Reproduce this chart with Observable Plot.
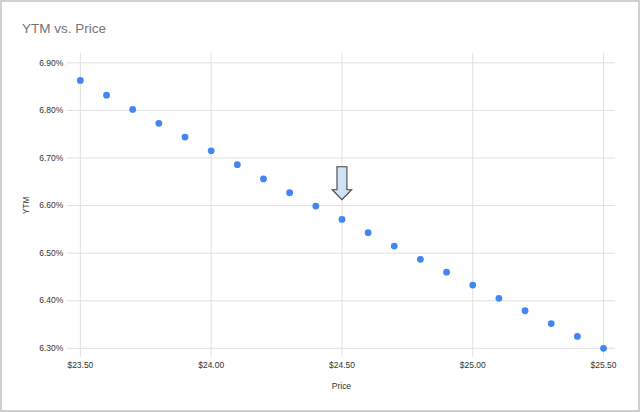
<!DOCTYPE html>
<html>
<head>
<meta charset="utf-8">
<script src="https://cdn.jsdelivr.net/npm/d3@7"></script>
<script src="https://cdn.jsdelivr.net/npm/@observablehq/plot@0.6"></script>
<style>
  html, body { margin: 0; padding: 0; background: #fff; }
  #wrap { position: relative; width: 640px; height: 412px; box-sizing: border-box; border: 2px solid #d0d0d0; overflow: hidden; }
  #title { position: absolute; left: 20px; top: 20px; font: 13.5px/1 "Liberation Sans", Arial, sans-serif; color: #757575; }
  #chart { position: absolute; left: -2px; top: -2px; }
</style>
</head>
<body>
<div id="wrap">
  <div id="title">YTM vs. Price</div>
  <div id="chart"></div>
</div>
<script>
const prices = [23.5, 23.6, 23.7, 23.8, 23.9, 24.0, 24.1, 24.2, 24.3, 24.4, 24.5, 24.6, 24.7, 24.8, 24.9, 25.0, 25.1, 25.2, 25.3, 25.4, 25.5];
const ytm = [6.863, 6.832, 6.802, 6.773, 6.744, 6.715, 6.686, 6.656, 6.627, 6.599, 6.571, 6.543, 6.515, 6.487, 6.460, 6.433, 6.405, 6.379, 6.352, 6.325, 6.300];
const xTicks = [23.5, 24.0, 24.5, 25.0, 25.5];
const yTicks = [6.3, 6.4, 6.5, 6.6, 6.7, 6.8, 6.9];
const marker = [{price: 24.5, ytm: 6.647}];

const points = prices.map((p, i) => ({price: p, ytm: ytm[i]}));

const arrowSymbol = {
  draw(ctx) {
    ctx.moveTo(-5, -16.5);
    ctx.lineTo(5, -16.5);
    ctx.lineTo(5, 6.5);
    ctx.lineTo(9.7, 6.5);
    ctx.lineTo(0, 16.5);
    ctx.lineTo(-9.7, 6.5);
    ctx.lineTo(-5, 6.5);
    ctx.closePath();
  }
};

const chart = Plot.plot({
  width: 640,
  height: 412,
  marginLeft: 67,
  marginRight: 23,
  marginTop: 53,
  marginBottom: 54,
  style: {fontFamily: "'Liberation Sans', Arial, sans-serif", fontSize: "8.5px", color: "#333", background: "transparent"},
  x: {domain: [23.45, 25.546]},
  y: {domain: [6.281, 6.92]},
  marks: [
    Plot.ruleY(yTicks, {stroke: "#e0e0e0", strokeWidth: 1}),
    Plot.ruleX(xTicks, {stroke: "#e0e0e0", strokeWidth: 1}),
    Plot.axisY(yTicks, {tickSize: 0, tickPadding: 4, tickFormat: d => d.toFixed(2) + "%", label: "YTM", labelAnchor: "center", labelArrow: "none", labelOffset: 44, fill: "#333"}),
    Plot.axisX(xTicks, {tickSize: 0, tickPadding: 5, tickFormat: d => "$" + d.toFixed(2), label: "Price", labelAnchor: "center", labelArrow: "none", labelOffset: 32, fill: "#333"}),
    Plot.dot(points, {x: "price", y: "ytm", r: 3.4, fill: "#4285f4", stroke: "none"}),
    Plot.dot(marker, {x: "price", y: "ytm", symbol: arrowSymbol, fill: "#cfe2f3", stroke: "#444", strokeWidth: 1.1, r: 10})
  ]
});
document.getElementById("chart").appendChild(chart);
</script>
</body>
</html>
